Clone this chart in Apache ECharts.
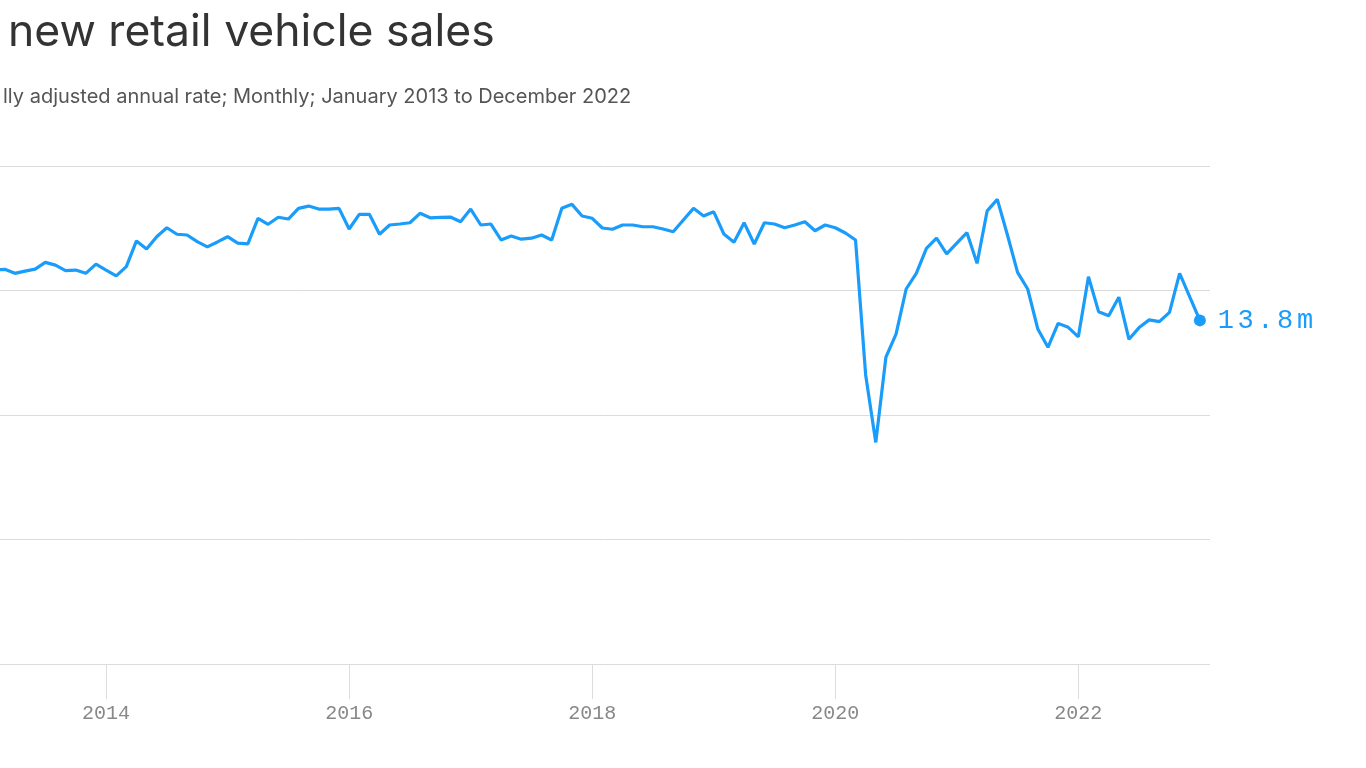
<!DOCTYPE html>
<html>
<head>
<meta charset="utf-8">
<script src="https://cdn.jsdelivr.net/npm/echarts@6/dist/echarts.min.js"></script>
<style>
html,body{margin:0;padding:0;background:#fff;}
#chart{width:1366px;height:768px;}
</style>
</head>
<body>
<div id="chart"></div>
<script>
// Monthly values, January 2013 .. December 2022 (millions, SAAR)
const startYear = 2013;
const values = [
  15.82, 15.85, 15.69, 15.78, 15.86, 16.13, 16.02, 15.80, 15.82, 15.69, 16.06, 15.82,
  15.59, 15.96, 16.99, 16.67, 17.16, 17.52, 17.26, 17.23, 16.96, 16.75, 16.95, 17.16,
  16.90, 16.87, 17.90, 17.66, 17.94, 17.87, 18.30, 18.39, 18.27, 18.27, 18.30, 17.47,
  18.06, 18.06, 17.26, 17.63, 17.67, 17.72, 18.10, 17.92, 17.94, 17.95, 17.76, 18.27,
  17.63, 17.67, 17.03, 17.19, 17.06, 17.10, 17.23, 17.03, 18.30, 18.46, 17.99, 17.90,
  17.51, 17.46, 17.63, 17.63, 17.56, 17.56, 17.47, 17.36, 17.83, 18.30, 17.99, 18.16,
  17.27, 16.94, 17.72, 16.87, 17.72, 17.67, 17.52, 17.63, 17.76, 17.40, 17.63, 17.52,
  17.31, 17.03, 11.61, 8.90, 12.32, 13.25, 15.06, 15.69, 16.69, 17.10, 16.47, 16.90,
  17.32, 16.09, 18.20, 18.66, 17.23, 15.73, 15.06, 13.45, 12.72, 13.68, 13.52, 13.14,
  15.55, 14.15, 13.99, 14.73, 13.04, 13.51, 13.82, 13.75, 14.12, 15.69, 14.74, 13.8
];
const yearTicks = [2014, 2016, 2018, 2020, 2022];
const yTicks = [0, 5, 10, 15, 20];
const titleText = 'new retail vehicle sales';
const subtitleText = 'lly adjusted annual rate; Monthly; January 2013 to December 2022';

// each month plotted at its end (fractional year)
const points = values.map((v, i) => [startYear + (i + 1) / 12, v]);
const lastPoint = points[points.length - 1];

const BLUE = '#1a9cfb';
const chart = echarts.init(document.getElementById('chart'));
chart.setOption({
  animation: false,
  backgroundColor: '#fff',
  title: [
    {text: titleText, left: 3, top: 5,
     textStyle: {fontFamily: 'Inter', fontSize: 44.5, fontWeight: 'normal', color: '#333'}},
    {text: subtitleText, left: -2, top: 82,
     textStyle: {fontFamily: 'Inter', fontSize: 20, fontWeight: 'normal', color: '#555'}}
  ],
  grid: {left: -137, right: 156, top: 166, bottom: 104, containLabel: false, outerBoundsMode: 'none'},
  xAxis: {
    type: 'value',
    min: 2012, max: 2023 + 1 / 12,
    interval: 2,
    axisLine: {show: false},
    splitLine: {show: false},
    axisTick: {show: true, customValues: yearTicks, length: 35, lineStyle: {color: '#ddd', width: 1}},
    axisLabel: {
      customValues: yearTicks, margin: 40,
      fontFamily: 'Liberation Mono', fontSize: 20, color: '#888',
      formatter: v => String(Math.round(v))
    }
  },
  yAxis: {
    type: 'value', min: yTicks[0], max: yTicks[yTicks.length - 1], interval: 5,
    axisLine: {show: false}, axisTick: {show: false}, axisLabel: {show: false},
    splitLine: {lineStyle: {color: '#dcdcdc', width: 1}}
  },
  series: [
    {
      type: 'line', data: points, showSymbol: false, symbol: 'none',
      lineStyle: {color: BLUE, width: 3.2}, z: 3
    },
    {
      type: 'scatter', data: [lastPoint], symbol: 'circle', symbolSize: 12,
      itemStyle: {color: BLUE, opacity: 1}, z: 4,
      label: {
        show: true, position: 'right', distance: 10,
        formatter: p => (p.value[1].toFixed(1) + 'm').split('').map(c => '{c|' + c + '}').join(''),
        rich: {c: {fontFamily: 'Liberation Mono', fontSize: 27, color: BLUE, padding: [0, 1.8, 0, 1.8]}}
      }
    }
  ]
});
</script>
</body>
</html>
